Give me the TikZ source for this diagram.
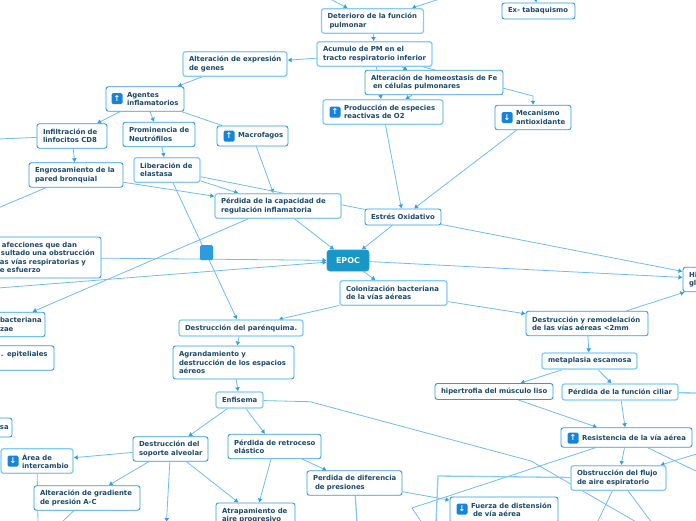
\documentclass[tikz,border=0pt]{standalone}
\usepackage{fontspec}
\setmainfont{DejaVu Sans}
\usetikzlibrary{arrows.meta,backgrounds}
\definecolor{boxblue}{HTML}{2A9DE2}
\definecolor{softblue}{HTML}{86CBF4}
\definecolor{linkblue}{HTML}{6DBDEE}
\definecolor{tipblue}{HTML}{2F9FE3}
\definecolor{inkblue}{HTML}{1B4A6B}
\definecolor{rootblue}{HTML}{1697C6}
\definecolor{iconblue}{HTML}{1683DC}
\newcommand{\ind}{\hspace*{15pt}}
\tikzset{
    mapbox/.style={draw=boxblue, line width=0.9pt, fill=white, rounded corners=2.5pt, align=left,
        inner xsep=6pt, inner ysep=2pt, minimum height=24.5pt, text=inkblue,
        font=\fontsize{6.9}{8.2}\selectfont\bfseries,
        execute at begin node={\rightskip=-60pt plus 1fil\relax}},
    softbox/.style={mapbox, draw=softblue, line width=1.3pt},
    oneline/.style={minimum height=16pt},
    rootbox/.style={draw=boxblue, line width=0.8pt, fill=rootblue, rounded corners=3pt, minimum width=42pt,
        minimum height=21pt, inner sep=0pt, text=white, font=\fontsize{8}{9}\selectfont\bfseries},
    iconbox/.style={fill=iconblue, rounded corners=1.5pt, minimum size=11pt, inner sep=0pt, text=white,
        font=\fontsize{8}{8}\selectfont\bfseries},
    link/.style={linkblue, line width=0.8pt},
    linkarrow/.style={link, -{Latex[length=4pt,width=5pt,color=tipblue]}},
    linkwide/.style={softblue, line width=1.3pt}
}
\begin{document}
\begin{tikzpicture}[x=1pt,y=-1pt]
    \useasboundingbox (0,0) rectangle (696,520);
    % upper part
    \node[softbox,text width=90pt] (deterioro) at (372.5,21) {Deterioro de la función\\ \hspace*{2pt}pulmonar};
    \node[softbox,text width=103pt] (acumulo) at (374.5,54) {Acumulo de PM en el\\tracto respiratorio inferior};
    \node[mapbox,oneline,text width=61pt] (exfumador) at (538.5,11) {Ex- tabaquismo};
    \node[softbox,text width=92pt] (expresion) at (235,64) {Alteración de expresión\\de genes};
    \node[mapbox,text width=66pt] (agentes) at (145,99) {\ind Agentes\\\ind inflamatorios};
    \node[mapbox,text width=58pt] (infiltracion) at (72,136) {Infiltración de\\linfocitos CD8};
    \node[mapbox,text width=60pt] (prominencia) at (159,134.5) {Prominencia de\\Neutrófilos};
    \node[mapbox,minimum height=20pt,text width=59pt] (macrofagos) at (252.5,136) {\ind Macrofagos};
    \node[mapbox,text width=82pt] (engrosamiento) at (76,175) {Engrosamiento de la\\pared bronquial};
    \node[softbox,text width=54pt] (liberacion) at (167,170) {Liberación de\\elastasa};
    \node[softbox,text width=114pt] (capacidad) at (278,206) {Pérdida de la capacidad de\\regulación inflamatoria};
    \node[mapbox,text width=126pt] (homeostasis) at (434,82.5) {Alteración de homeostasis de Fe\\ \hspace*{2pt}en células pulmonares};
    \node[softbox,text width=108pt] (produccion) at (383,112) {\ind Producción de especies\\\ind reactivas de O2};
    \node[mapbox,text width=64pt] (mecanismo) at (533,117.5) {\ind Mecanismo\\\ind antioxidante};
    \node[mapbox,oneline,text width=64pt] (estres) at (403,217) {Estrés Oxidativo};
    % centre and right
    \node[rootbox] (epoc) at (348,260.5) {EPOC};
    \node[softbox,text width=95pt] (colonizacion) at (393.5,293) {Colonización bacteriana\\de la vías aéreas};
    \node[mapbox,text width=70pt] (hiper) at (724,279.5) {Hi\\gl};
    \node[mapbox,text width=110pt] (remodelacion) at (587,323.5) {Destrucción y remodelación\\de las vías aéreas <2mm};
    \node[softbox,oneline,text width=83pt] (metaplasia) at (589.5,361) {metaplasia escamosa};
    \node[mapbox,oneline,text width=106pt] (hipertrofia) at (494,391.5) {hipertrofia del músculo liso};
    \node[softbox,oneline,text width=104pt] (ciliar) at (620,392) {Pérdida de la función ciliar};
    \node[mapbox,minimum height=19.5pt,text width=119pt] (resistencia) at (626.5,437.5) {\ind Resistencia de la vía aérea};
    \node[softbox,text width=83pt] (obstruccion) at (618.5,478) {Obstrucción del flujo\\de aire espiratorio};
    \node[mapbox,minimum height=26pt,text width=96pt] (fuerza) at (504,510) {\ind Fuerza de distensión\\\ind \hspace*{2pt}de vía aérea};
    \node[mapbox,text width=83pt] (presiones) at (354.5,483) {Perdida de diferencia\\ \hspace*{2pt}de presiones};
    % lower left
    \node[softbox,oneline,text width=35pt] (enfisema) at (239.5,400) {Enfisema};
    \node[mapbox,minimum height=33pt,text width=109pt] (agrandamiento) at (233.5,362.5) {Agrandamiento y\\destrucción de los espacios\\aéreos};
    \node[softbox,oneline,text width=112pt] (parenquima) at (241,328) {Destrucción del parénquima.};
    \node[mapbox,text width=63pt] (soporte) at (170.5,449) {Destrucción del\\soporte alveolar};
    \node[mapbox,text width=81pt] (retroceso) at (274.5,446.5) {Pérdida de retroceso\\elástico};
    \node[softbox,text width=60pt] (area) at (37,461) {\ind Área de\\\ind intercambio};
    \node[mapbox,text width=94pt] (gradiente) at (87,498) {Alteración de gradiente\\de presión A-C};
    \node[mapbox,minimum height=26pt,text width=67pt] (atrapamiento) at (255.5,516) {Atrapamiento de\\aire progresivo};
    % cut by the page edge
    \node[mapbox,minimum height=41pt,text width=130pt] (afecciones) at (30,257.5) {\hspace*{37pt}afecciones que dan\\\hspace*{36pt}sultado una obstrucción\\\hspace*{35pt}as vías respiratorias y\\\hspace*{35pt}e esfuerzo};
    \node[mapbox,text width=72pt] (bacteriana) at (3,324.5) {\hspace*{33pt}bacteriana\\\hspace*{33pt}zae};
    \node[mapbox,text width=72pt] (epiteliales) at (12,358) {\hspace*{25pt}. epiteliales\\~};
    \node[mapbox,minimum height=19pt,text width=30pt] (anemia) at (-9,427.5) {\hspace*{24pt}sa};
    \node[fill=boxblue, rounded corners=1.5pt, minimum width=13pt, minimum height=15pt, inner sep=0pt] (marca) at (206.5,252.5) {};
    % icons
    \node[iconbox] (iconagentes) at (117,98.5) {↑};
    \node[iconbox] (iconmacro) at (229,136) {↑};
    \node[iconbox] (iconproduccion) at (335,112) {↑};
    \node[iconbox] (iconmecanismo) at (507,117.5) {↓};
    \node[iconbox] (iconresistencia) at (573,438) {↑};
    \node[iconbox] (iconfuerza) at (462,509) {↓};
    \node[iconbox] (iconarea) at (13,461) {↓};
    % free ends and bends
    \coordinate (inicioa) at (332,0);
    \coordinate (iniciob) at (438,-0.5);
    \coordinate (inicioc) at (535,-3);
    \coordinate (izquierdaa) at (-2,139);
    \coordinate (izquierdab) at (-2,208);
    \coordinate (izquierdac) at (-2,288);
    \coordinate (dobleza) at (533,96);
    \coordinate (doblezb) at (310,401.7);
    \coordinate (doblezc) at (531,461);
    \coordinate (doblezd) at (412,508);
    \coordinate (dobleze) at (438,476);
    \coordinate (derechaa) at (698,393);
    \coordinate (derechab) at (698,472);
    \coordinate (derechac) at (698,453.5);
    \coordinate (abajoa) at (38,523);
    \coordinate (abajob) at (61,523);
    \coordinate (abajoc) at (166.5,522);
    \coordinate (abajod) at (357,523);
    \coordinate (abajoe) at (422,523);
    \coordinate (abajof) at (436,523);
    \coordinate (abajog) at (597,523);
    \coordinate (abajoh) at (652,523);
    \coordinate (abajoi) at (638,523);
    \begin{scope}[on background layer]
    \foreach \from/\to in {inicioa/deterioro, iniciob/deterioro, inicioc/exfumador, deterioro/acumulo, acumulo/expresion,
        expresion/agentes, agentes/infiltracion, agentes/prominencia, infiltracion/engrosamiento, prominencia/liberacion,
        macrofagos/capacidad, engrosamiento/capacidad, liberacion/capacidad, liberacion/parenquima, capacidad/epoc,
        capacidad/bacteriana, acumulo/homeostasis, acumulo/produccion, homeostasis/produccion, produccion/estres,
        mecanismo/estres, estres/epoc, afecciones/epoc, izquierdac/epoc, epoc/colonizacion, epoc/hiper, estres/hiper,
        colonizacion/remodelacion, colonizacion/parenquima, remodelacion/hiper, remodelacion/metaplasia, metaplasia/hipertrofia,
        metaplasia/ciliar, ciliar/resistencia, hipertrofia/resistencia, resistencia/obstruccion, derechac/obstruccion,
        parenquima/agrandamiento, agrandamiento/enfisema, enfisema/soporte, enfisema/retroceso, soporte/area, soporte/gradiente,
        soporte/atrapamiento, soporte/abajoc, retroceso/atrapamiento, retroceso/presiones, presiones/fuerza}{
        \draw[linkarrow] (\from) -- (\to);
    }
    \foreach \from/\to in {agentes/macrofagos, liberacion/estres, infiltracion/izquierdaa, engrosamiento/izquierdab,
        resistencia/derechab, area/abajoa, gradiente/abajob, obstruccion/abajog, obstruccion/abajoh}{
        \draw[link] (\from) -- (\to);
    }
    \foreach \from/\to in {ciliar/derechaa, presiones/abajod}{
        \draw[linkwide] (\from) -- (\to);
    }
    \draw[linkarrow] (acumulo) -- (dobleza) -- (mecanismo);
    \draw[link] (enfisema) -- (doblezb) -- (doblezc) -- (abajoi);
    \draw[link] (resistencia) -- (doblezd) -- (abajoe);
    \draw[linkwide] (obstruccion) -- (dobleze) -- (abajof);
    \end{scope}
\end{tikzpicture}
\end{document}
